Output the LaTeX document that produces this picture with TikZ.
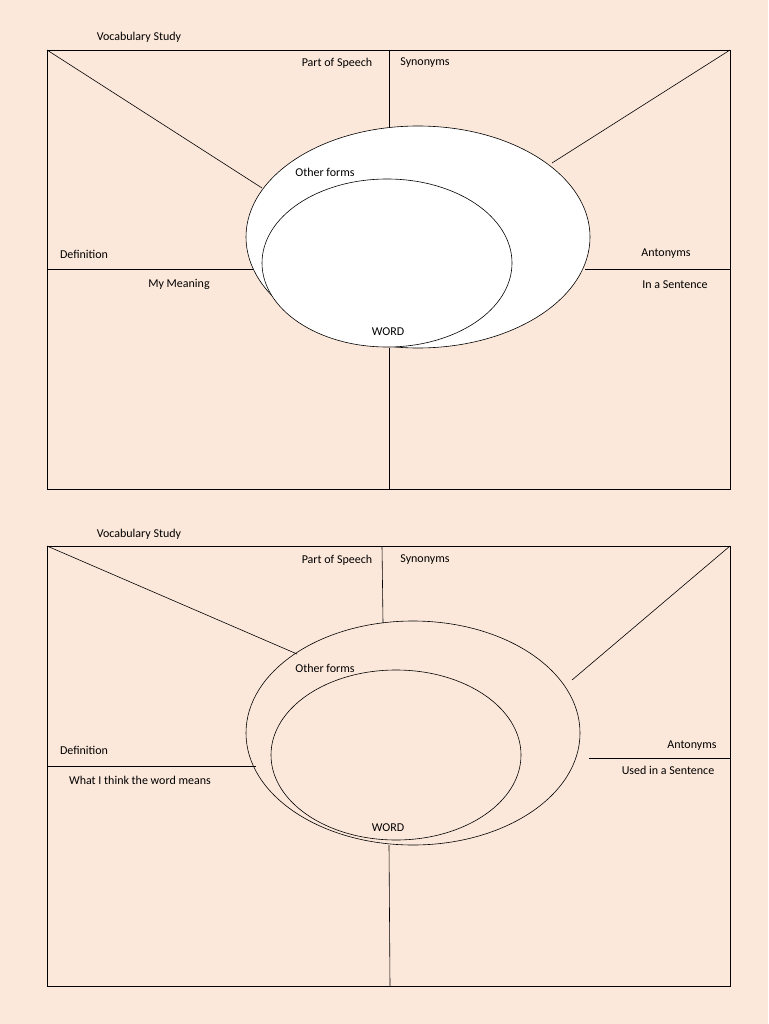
\documentclass[tikz,border=0pt]{standalone}
\usepackage{fontspec}
\setmainfont{Carlito}
\definecolor{bg}{HTML}{FCE8DA}
\begin{document}
\begin{tikzpicture}[x=1pt,y=-1pt,line width=0.6pt,
  lbl/.style={font=\fontsize{12}{14}\selectfont,inner sep=0pt}]
\fill[bg] (0,0) rectangle (768,1024);
\useasboundingbox (0,0) rectangle (768,1024);
% ---- top panel
\draw (47,50) rectangle (730,489);
\coordinate (t1) at (47,50);\coordinate (t2) at (389,50);\coordinate (t3) at (730,50);
\coordinate (t4) at (47,269);\coordinate (t5) at (730,269);\coordinate (t6) at (389,489);
\draw (t1) -- (262,188);
\draw (t2) -- (389,127);
\draw (t3) -- (552,163);
\draw (t4) -- (266,269);
\draw (585,269) -- (t5);
\draw (389,348) -- (t6);
\draw[fill=white] (418,237) ellipse [x radius=172,y radius=111];
\draw[fill=white] (387,263) ellipse [x radius=125,y radius=84];
\node[lbl] at (139,37) {Vocabulary Study};
\node[lbl] at (337,63) {Part of Speech};
\node[lbl] at (425,63) {Synonyms};
\node[lbl] at (325,172) {Other forms};
\node[lbl] at (84,254) {Definition};
\node[lbl] at (179,284) {My Meaning};
\node[lbl] at (666,254) {Antonyms};
\node[lbl] at (675,285) {In a Sentence};
\node[lbl] at (388,332) {WORD};
% ---- bottom panel
\draw (47,546) rectangle (730,986);
\coordinate (b1) at (47,546);\coordinate (b2) at (382,546);\coordinate (b3) at (730,546);
\coordinate (b4) at (47,766);\coordinate (b5) at (730,758);\coordinate (b6) at (390,986);
\draw (b1) -- (297,654);
\draw (b2) -- (383,623);
\draw (b3) -- (572,680);
\draw (b4) -- (256,766);
\draw (589,758) -- (b5);
\draw (389,845) -- (b6);
\draw (413,733) ellipse [x radius=167,y radius=112];
\draw (396,755) ellipse [x radius=125,y radius=85];
\node[lbl] at (139,534) {Vocabulary Study};
\node[lbl] at (337,560) {Part of Speech};
\node[lbl] at (425,560) {Synonyms};
\node[lbl] at (325,668) {Other forms};
\node[lbl] at (84,750) {Definition};
\node[lbl] at (140,780) {What I think the word means};
\node[lbl] at (692,746) {Antonyms};
\node[lbl] at (668,770) {Used in a Sentence};
\node[lbl] at (388,828) {WORD};
\end{tikzpicture}
\end{document}
